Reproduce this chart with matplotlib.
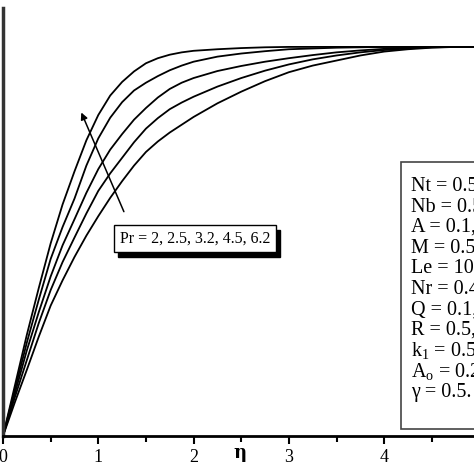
import matplotlib
matplotlib.use("Agg")
import matplotlib.pyplot as plt
from matplotlib.patches import Rectangle
from matplotlib.transforms import IdentityTransform

plt.rcParams['font.family'] = ['Liberation Serif', 'DejaVu Serif']
plt.rcParams['mathtext.fontset'] = 'custom'
plt.rcParams['mathtext.rm'] = 'Liberation Serif'
plt.rcParams['mathtext.it'] = 'Liberation Serif:italic'

eta = [0, 0.125, 0.25, 0.375, 0.5, 0.625, 0.75, 0.875, 1.0, 1.125, 1.25, 1.375, 1.5,
       1.625, 1.75, 1.875, 2.0, 2.25, 2.5, 2.75, 3.0, 3.25, 3.5, 3.75, 4.0, 4.25, 4.5,
       4.75, 5.0]
theta_pr62 = [0, 0.13, 0.26, 0.38, 0.495, 0.595, 0.68, 0.76, 0.825, 0.875, 0.91, 0.937,
              0.958, 0.971, 0.98, 0.986, 0.99, 0.994, 0.997, 0.999, 1.0, 1.0, 1.0, 1.0,
              1.0, 1.0, 1.0, 1.0, 1.0]
theta_pr45 = [0, 0.12, 0.24, 0.35, 0.455, 0.537, 0.61, 0.695, 0.765, 0.818, 0.858, 0.888,
              0.908, 0.925, 0.94, 0.952, 0.962, 0.975, 0.983, 0.989, 0.994, 0.996, 0.998,
              0.999, 1.0, 1.0, 1.0, 1.0, 1.0]
theta_pr32 = [0, 0.11, 0.22, 0.318, 0.41, 0.49, 0.557, 0.625, 0.686, 0.736, 0.776, 0.813,
              0.843, 0.87, 0.892, 0.908, 0.92, 0.938, 0.951, 0.962, 0.971, 0.979, 0.986,
              0.991, 0.995, 0.998, 1.0, 1.0, 1.0]
theta_pr25 = [0, 0.1, 0.195, 0.29, 0.375, 0.447, 0.51, 0.572, 0.63, 0.675, 0.715, 0.755,
              0.79, 0.817, 0.84, 0.857, 0.872, 0.898, 0.92, 0.939, 0.955, 0.968, 0.978,
              0.986, 0.992, 0.996, 0.999, 1.0, 1.0]
theta_pr20 = [0, 0.087, 0.17, 0.255, 0.335, 0.4, 0.46, 0.515, 0.565, 0.612, 0.655, 0.695,
              0.73, 0.757, 0.78, 0.8, 0.82, 0.855, 0.885, 0.912, 0.935, 0.952, 0.965,
              0.978, 0.988, 0.994, 0.998, 1.0, 1.0]
series = [theta_pr62, theta_pr45, theta_pr32, theta_pr25, theta_pr20]

xticks = [0, 1, 2, 3, 4]
pr_label = "Pr = 2, 2.5, 3.2, 4.5, 6.2"
params = ["Nt = 0.5,", "Nb = 0.5,", "A = 0.1,", "M = 0.5,", "Le = 10,", "Nr = 0.4,",
          "Q = 0.1,", "R = 0.5,", "k$_\\mathrm{1}$ = 0.5,", "A$_\\mathrm{o}$ = 0.2,", "\u03b3 = 0.5."]

fig = plt.figure(figsize=(4.74, 4.74), dpi=100)
ax = fig.add_axes([3/474, 38/474, 5*95.3/474, 428/474])
for s in series:
    ax.plot(eta, s, color='black', lw=1.3, solid_joinstyle='round')

ax.set_xlim(0, 5)
ax.set_ylim(0, 1.1)
ax.spines['top'].set_visible(False)
ax.spines['right'].set_visible(False)
ax.spines['bottom'].set_linewidth(2)
ax.spines['left'].set_linewidth(2.5)
ax.spines['left'].set_color('#333333')
ax.set_xticks(xticks)
ax.set_xticks([0.5, 1.5, 2.5, 3.5, 4.5], minor=True)
ax.tick_params(axis='x', which='major', direction='out', length=6, width=1.5, labelsize=13, pad=3)
ax.tick_params(axis='x', which='minor', direction='out', length=4, width=1.5)
ax.set_yticks([])
fig.text(240/474, 1 - 453/474, "\u03b7", ha='center', va='center', fontsize=13,
         fontweight='bold', family=['DejaVu Serif'])

# arrow
ax.annotate("", xy=(0.81, 0.838), xytext=(1.28, 0.57),
            arrowprops=dict(arrowstyle='-|>', color='black', lw=1.1, mutation_scale=10))

# Pr label with drop shadow
t = ax.text(1.225, 0.508, pr_label, ha='left', va='center', fontsize=11.5, color='black',
            zorder=6, bbox=dict(boxstyle='square,pad=0.35', fc='white', ec='black', lw=1))
fig.canvas.draw()
bb = t.get_bbox_patch().get_window_extent(fig.canvas.get_renderer())
shadow = Rectangle((bb.x0 + 4, bb.y0 - 5), bb.width, bb.height,
                   transform=IdentityTransform(), fc='black', ec='black', zorder=5,
                   clip_on=False)
ax.add_artist(shadow)

# parameter box
fig.patches.append(Rectangle((401/474, 1 - 429/474), 0.3, (429-162)/474,
                             transform=fig.transFigure, fc='white', ec='#444444', lw=1.2))
for i, p in enumerate(params):
    fig.text(411/474, 1 - (186 + i*20.6)/474, p, ha='left', va='center', fontsize=14.5)

fig.savefig("out.png", dpi=100)
